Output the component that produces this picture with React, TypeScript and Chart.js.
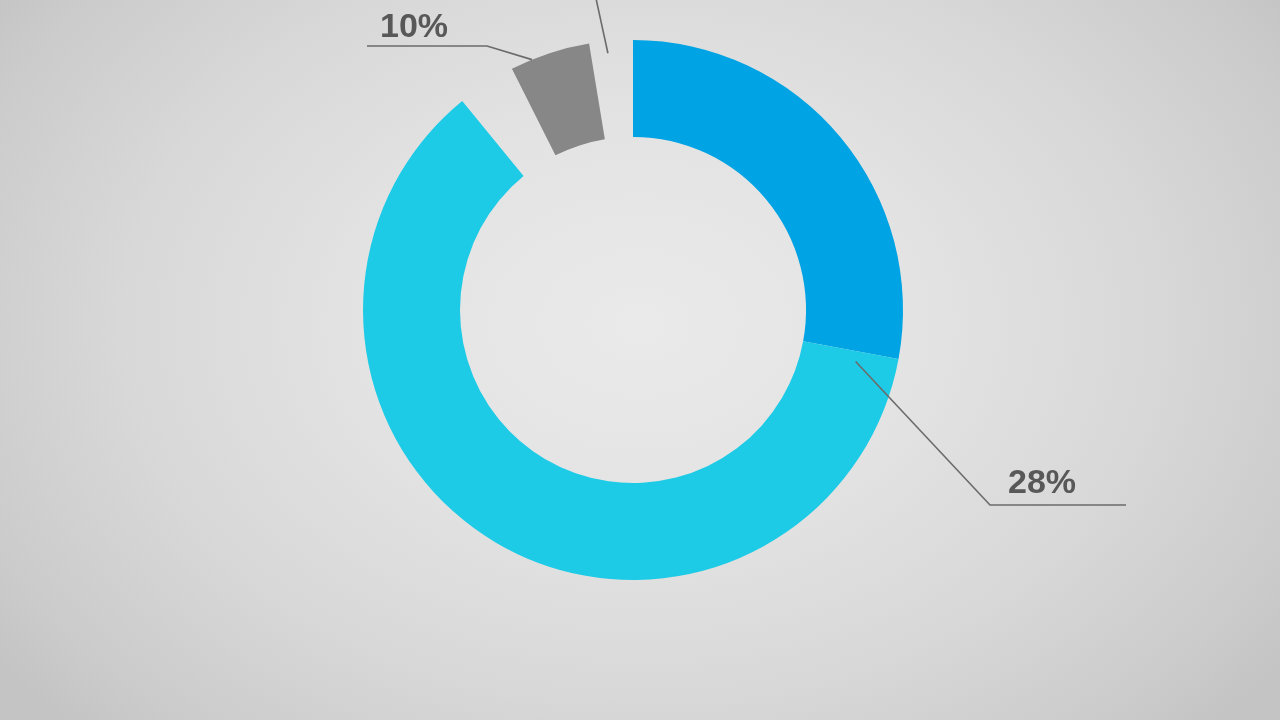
import React, { useEffect, useRef } from "react";
import { Chart, registerables } from "chart.js";

Chart.register(...registerables);

// Segments as read from the frame (share of the full circle, %)
const categories = ["A", "B", "gap1", "C", "gap2"];
const values = [27.9, 61.2, 3.5, 4.8, 2.6];
const colors = ["#00A3E3", "#1ECBE6", "rgba(0,0,0,0)", "#878787", "rgba(0,0,0,0)"];
const labelTexts = ["28%", "", "", "10%", ""];

const deg = Math.PI / 180;

const leaderPlugin = {
  id: "leaders",
  afterDatasetsDraw(chart: any) {
    const meta = chart.getDatasetMeta(0);
    const arcs = meta.data;
    if (!arcs || !arcs.length) return;
    const ctx = chart.ctx;
    const a0 = arcs[0].getProps(["x", "y", "startAngle", "endAngle", "innerRadius", "outerRadius"], true);
    const cx = a0.x;
    const cy = a0.y;
    const pt = (ang: number, r: number) => [cx + Math.cos(ang) * r, cy + Math.sin(ang) * r];

    ctx.save();
    ctx.strokeStyle = "#6b6b6b";
    ctx.lineWidth = 1.6;
    ctx.fillStyle = "#585858";
    ctx.font = "bold 34px 'Liberation Sans', Arial, sans-serif";
    ctx.textBaseline = "alphabetic";
    ctx.textAlign = "left";

    // Label for segment 0 (28%)
    {
      const [sx, sy] = pt(a0.endAngle + 2.6 * deg, (a0.innerRadius + a0.outerRadius) / 2 + 7);
      const ex = cx + 357, ey = cy + 195;
      ctx.beginPath();
      ctx.moveTo(sx, sy);
      ctx.lineTo(ex, ey);
      ctx.lineTo(cx + 493, ey);
      ctx.stroke();
      ctx.fillText(labelTexts[0], ex + 18, ey - 12);
    }
    // Label for segment 3 (10%)
    {
      const a3 = arcs[3].getProps(["startAngle", "endAngle", "outerRadius"], true);
      const [sx, sy] = pt(a3.startAngle + (a3.endAngle - a3.startAngle) * 0.27, a3.outerRadius);
      const ex = cx - 146, ey = cy - 264;
      ctx.beginPath();
      ctx.moveTo(sx, sy);
      ctx.lineTo(ex, ey);
      ctx.lineTo(cx - 266, ey);
      ctx.stroke();
      ctx.fillText(labelTexts[3], cx - 253, ey - 9);
    }
    // Leader of a label that lies beyond the top edge
    {
      const a4 = arcs[4].getProps(["startAngle", "endAngle", "outerRadius"], true);
      const ang = (a4.startAngle + a4.endAngle) / 2;
      const [sx, sy] = pt(ang - 0.9 * deg, a4.outerRadius - 12);
      const [tx, ty] = pt(ang - 2.1 * deg, a4.outerRadius + 44);
      ctx.beginPath();
      ctx.moveTo(sx, sy);
      ctx.lineTo(tx, ty);
      ctx.stroke();
    }
    ctx.restore();
  },
};

export default function App() {
  const ref = useRef<HTMLCanvasElement | null>(null);
  useEffect(() => {
    if (!ref.current) return;
    const chart = new Chart(ref.current, {
      type: "doughnut",
      data: {
        labels: categories,
        datasets: [
          {
            data: values,
            backgroundColor: colors,
            borderWidth: 0,
            hoverOffset: 0,
            offset: 0,
          },
        ],
      },
      options: {
        responsive: false,
        animation: false,
        radius: 270,
        cutout: 173,
        layout: { padding: { left: 363, right: 377, top: 40, bottom: 140 } },
        plugins: {
          legend: { display: false },
          tooltip: { enabled: false },
        },
        events: [],
      },
      plugins: [leaderPlugin],
    });
    return () => chart.destroy();
  }, []);

  return (
    <div
      style={{
        position: "fixed",
        left: 0,
        top: 0,
        width: 1280,
        height: 720,
        overflow: "hidden",
        background:
          "radial-gradient(ellipse 62% 80% at 50% 45%, #eaeaea 0%, #e3e3e3 35%, #d8d8d8 65%, #cbcbcb 90%, #c4c4c4 100%)",
      }}
    >
      <canvas ref={ref} width={1280} height={720} style={{ width: 1280, height: 720, display: "block" }} />
    </div>
  );
}
